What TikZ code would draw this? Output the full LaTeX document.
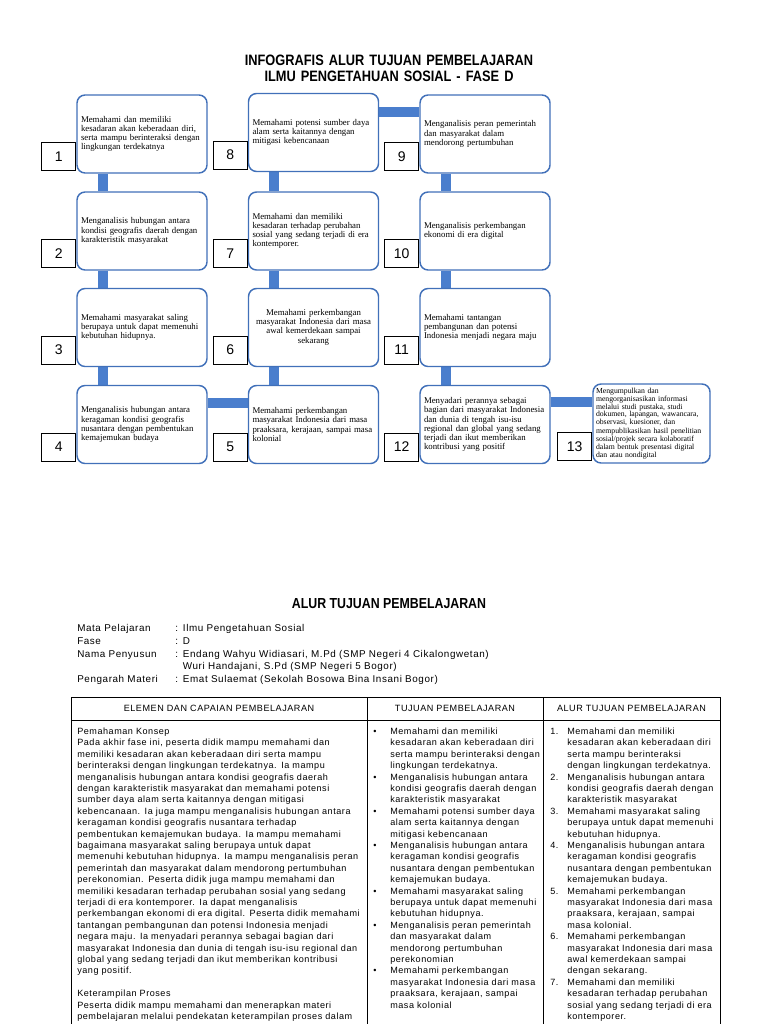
\documentclass[tikz,border=0pt]{standalone}
\usepackage{fontspec}
\setmainfont{Liberation Serif}
\setsansfont{Liberation Sans}
\newfontfamily\titlefont[FakeStretch=0.85]{Liberation Sans}
\newfontfamily\tabfont[LetterSpace=6]{Liberation Sans}
\usepackage{xcolor}
\usepackage{tikz}
\usetikzlibrary{positioning, backgrounds}
\definecolor{edgeblue}{RGB}{65,112,185}
\definecolor{barblue}{RGB}{74,126,205}

\begin{document}
\begin{tikzpicture}[
  x=0.75pt, y=0.75pt,
  goal/.style={rectangle, draw=edgeblue, line width=1.1pt, rounded corners=6pt,
               fill=white, minimum width=97.5pt, minimum height=58.5pt,
               text width=91.5pt, inner xsep=3pt, inner ysep=0pt, align=left,
               font=\rmfamily\fontsize{6.6}{6.85}\selectfont},
  num/.style={rectangle, draw, line width=0.8pt, fill=white, minimum width=25.5pt,
              minimum height=21pt, inner sep=0pt,
              font=\sffamily\fontsize{10.5}{12}\selectfont},
  bar/.style={barblue, line width=7.5pt},
  grid/.style={line width=0.6pt},
  tab/.style={inner sep=0pt, align=left, font=\tabfont\fontsize{6.8}{8.55}\selectfont},
  info/.style={inner sep=0pt, align=left, font=\tabfont\fontsize{7.4}{9.56}\selectfont}
]
  \useasboundingbox (0,0) rectangle (768,-1024);

  % Title
  \node[text width=240pt, align=center, inner sep=0pt, anchor=base,
        font=\titlefont\bfseries\fontsize{11.3}{12}\selectfont] (title) at (389,-65)
    {INFOGRAFIS ALUR TUJUAN PEMBELAJARAN\\ILMU PENGETAHUAN SOSIAL - FASE D};

  % Column 1
  \node[goal] (b1) at (142,-134) {Memahami dan memiliki\\kesadaran akan keberadaan diri,\\serta mampu berinteraksi dengan\\lingkungan terdekatnya};
  \node[goal] (b2) at (142,-231) {Menganalisis hubungan antara\\kondisi geografis daerah dengan\\karakteristik masyarakat};
  \node[goal] (b3) at (142,-327.5) {Memahami masyarakat saling\\berupaya untuk dapat memenuhi\\kebutuhan hidupnya.};
  \node[goal] (b4) at (142,-424.5) {Menganalisis hubungan antara\\keragaman kondisi geografis\\nusantara dengan pembentukan\\kemajemukan budaya};

  % Column 2
  \node[goal] (b8) at (313.5,-132.5) {Memahami potensi sumber daya\\alam serta kaitannya dengan\\mitigasi kebencanaan};
  \node[goal] (b7) at (313.5,-231) {Memahami dan memiliki\\kesadaran terhadap perubahan\\sosial yang sedang terjadi di era\\kontemporer.};
  \node[goal, align=center] (b6) at (313.5,-327.5) {Memahami perkembangan\\masyarakat Indonesia dari masa\\awal kemerdekaan sampai\\[1pt]sekarang};
  \node[goal] (b5) at (313.5,-424.5) {Memahami perkembangan\\masyarakat Indonesia dari masa\\praaksara, kerajaan, sampai masa\\kolonial};

  % Column 3
  \node[goal] (b9) at (485,-134) {Menganalisis peran pemerintah\\dan masyarakat dalam\\mendorong pertumbuhan};
  \node[goal] (b10) at (485,-231) {Menganalisis perkembangan\\ekonomi di era digital};
  \node[goal] (b11) at (485,-327.5) {Memahami tantangan\\pembangunan dan potensi\\Indonesia menjadi negara maju};
  \node[goal] (b12) at (485,-424.5) {Menyadari perannya sebagai\\bagian dari masyarakat Indonesia\\dan dunia di tengah isu-isu\\regional dan global yang sedang\\terjadi dan ikut memberikan\\kontribusi yang positif};

  % Last goal
  \node[goal, minimum width=87.75pt, minimum height=59.25pt, text width=83.25pt,
        inner xsep=2.25pt, font=\rmfamily\fontsize{5.8}{5.85}\selectfont] (b13) at (651.5,-423.5)
    {Mengumpulkan dan\\mengorganisasikan informasi\\melalui studi pustaka, studi\\dokumen, lapangan, wawancara,\\observasi, kuesioner, dan\\[1pt]mempublikasikan hasil penelitian\\sosial/projek secara kolaboratif\\dalam bentuk presentasi digital\\dan atau nondigital};

  % Number tags
  \foreach \i in {1,...,13}
    \node[num, anchor=south east] (n\i) at ([yshift=2pt]b\i.south west) {\i};

  % Connectors
  \begin{scope}[on background layer]
    \draw[bar] ([xshift=20.25pt]b1.south west) -- ([xshift=20.25pt]b2.north west);
    \draw[bar] ([xshift=20.25pt]b2.south west) -- ([xshift=20.25pt]b3.north west);
    \draw[bar] ([xshift=20.25pt]b3.south west) -- ([xshift=20.25pt]b4.north west);
    \draw[bar] ([xshift=19.5pt]b8.south west) -- ([xshift=19.5pt]b7.north west);
    \draw[bar] ([xshift=19.5pt]b7.south west) -- ([xshift=19.5pt]b6.north west);
    \draw[bar] ([xshift=19.5pt]b6.south west) -- ([xshift=19.5pt]b5.north west);
    \draw[bar] ([xshift=20.25pt]b9.south west) -- ([xshift=20.25pt]b10.north west);
    \draw[bar] ([xshift=20.25pt]b10.south west) -- ([xshift=20.25pt]b11.north west);
    \draw[bar] ([xshift=20.25pt]b11.south west) -- ([xshift=20.25pt]b12.north west);
    \coordinate (h45) at ([yshift=-13.5pt]b4.north east);
    \coordinate (h89) at ([yshift=-14.25pt]b8.north east);
    \coordinate (h1213) at ([yshift=-12.75pt]b12.north east);
    \draw[bar] (h45) -- (h45 -| b5.west);
    \draw[bar] (h89) -- (h89 -| b9.west);
    \draw[bar] (h1213) -- (h1213 -| b13.west);
  \end{scope}

  % Second heading
  \node[inner sep=0pt, anchor=base, font=\titlefont\bfseries\fontsize{10.9}{12}\selectfont]
    (head) at (389,-608) {ALUR TUJUAN PEMBELAJARAN};

  % Identity
  \node[info, text width=75pt, anchor=base west] (keys) at (77,-631.5)
    {Mata Pelajaran\\Fase\\Nama Penyusun\\\mbox{}\\Pengarah Materi};
  \node[info, text width=300pt, anchor=base west] (vals) at (175,-631.5)
    {: Ilmu Pengetahuan Sosial\\: D\\: Endang Wahyu Widiasari, M.Pd (SMP Negeri 4 Cikalongwetan)\\\phantom{: }Wuri Handajani, S.Pd (SMP Negeri 5 Bogor)\\: Emat Sulaemat (Sekolah Bosowa Bina Insani Bogor)};

  % Table
  \draw[grid] (71,-697) -- (720,-697);
  \draw[grid] (71,-720) -- (720,-720);
  \foreach \x in {71,367,543,720}
    \draw[grid] (\x,-697) -- (\x,-1030);

  \node[tab, anchor=base] (hd1) at (219,-711.5) {ELEMEN DAN CAPAIAN PEMBELAJARAN};
  \node[tab, anchor=base] (hd2) at (455,-711.5) {TUJUAN PEMBELAJARAN};
  \node[tab, anchor=base] (hd3) at (631.5,-711.5) {ALUR TUJUAN PEMBELAJARAN};

  \node[tab, text width=240pt, anchor=base west] (cp) at (77,-734.5)
    {Pemahaman Konsep\\
     Pada akhir fase ini, peserta didik mampu memahami dan\\
     memiliki kesadaran akan keberadaan diri serta mampu\\
     berinteraksi dengan lingkungan terdekatnya. Ia mampu\\
     menganalisis hubungan antara kondisi geografis daerah\\
     dengan karakteristik masyarakat dan memahami potensi\\
     sumber daya alam serta kaitannya dengan mitigasi\\
     kebencanaan. Ia juga mampu menganalisis hubungan antara\\
     keragaman kondisi geografis nusantara terhadap\\
     pembentukan kemajemukan budaya. Ia mampu memahami\\
     bagaimana masyarakat saling berupaya untuk dapat\\
     memenuhi kebutuhan hidupnya. Ia mampu menganalisis peran\\
     pemerintah dan masyarakat dalam mendorong pertumbuhan\\
     perekonomian. Peserta didik juga mampu memahami dan\\
     memiliki kesadaran terhadap perubahan sosial yang sedang\\
     terjadi di era kontemporer. Ia dapat menganalisis\\
     perkembangan ekonomi di era digital. Peserta didik memahami\\
     tantangan pembangunan dan potensi Indonesia menjadi\\
     negara maju. Ia menyadari perannya sebagai bagian dari\\
     masyarakat Indonesia dan dunia di tengah isu-isu regional dan\\
     global yang sedang terjadi dan ikut memberikan kontribusi\\
     yang positif.\\[8.55pt]
     Keterampilan Proses\\
     Peserta didik mampu memahami dan menerapkan materi\\
     pembelajaran melalui pendekatan keterampilan proses dalam};

  % Tujuan
  \foreach \k/\txt [count=\i] in {
    0/{Memahami dan memiliki\\kesadaran akan keberadaan diri\\serta mampu berinteraksi dengan\\lingkungan terdekatnya.},
    4/{Menganalisis hubungan antara\\kondisi geografis daerah dengan\\karakteristik masyarakat},
    7/{Memahami potensi sumber daya\\alam serta kaitannya dengan\\mitigasi kebencanaan},
    10/{Menganalisis hubungan antara\\keragaman kondisi geografis\\nusantara dengan pembentukan\\kemajemukan budaya.},
    14/{Memahami masyarakat saling\\berupaya untuk dapat memenuhi\\kebutuhan hidupnya.},
    17/{Menganalisis peran pemerintah\\dan masyarakat dalam\\mendorong pertumbuhan\\perekonomian},
    21/{Memahami perkembangan\\masyarakat Indonesia dari masa\\praaksara, kerajaan, sampai\\masa kolonial}}
  {
    \node[tab, anchor=base west] (dot\i) at (373,-734.5-11.4*\k) {\textbullet};
    \node[tab, text width=150pt, anchor=base west] (tp\i) at (390,-734.5-11.4*\k) {\txt};
  }

  % Alur
  \foreach \k/\txt [count=\i] in {
    0/{Memahami dan memiliki\\kesadaran akan keberadaan diri\\serta mampu berinteraksi\\dengan lingkungan terdekatnya.},
    4/{Menganalisis hubungan antara\\kondisi geografis daerah dengan\\karakteristik masyarakat},
    7/{Memahami masyarakat saling\\berupaya untuk dapat memenuhi\\kebutuhan hidupnya.},
    10/{Menganalisis hubungan antara\\keragaman kondisi geografis\\nusantara dengan pembentukan\\kemajemukan budaya.},
    14/{Memahami perkembangan\\masyarakat Indonesia dari masa\\praaksara, kerajaan, sampai\\masa kolonial.},
    18/{Memahami perkembangan\\masyarakat Indonesia dari masa\\awal kemerdekaan sampai\\dengan sekarang.},
    22/{Memahami dan memiliki\\kesadaran terhadap perubahan\\sosial yang sedang terjadi di era\\kontemporer.}}
  {
    \node[tab, anchor=base west] (no\i) at (550,-734.5-11.4*\k) {\i.};
    \node[tab, text width=150pt, anchor=base west] (atp\i) at (567,-734.5-11.4*\k) {\txt};
  }
\end{tikzpicture}
\end{document}
